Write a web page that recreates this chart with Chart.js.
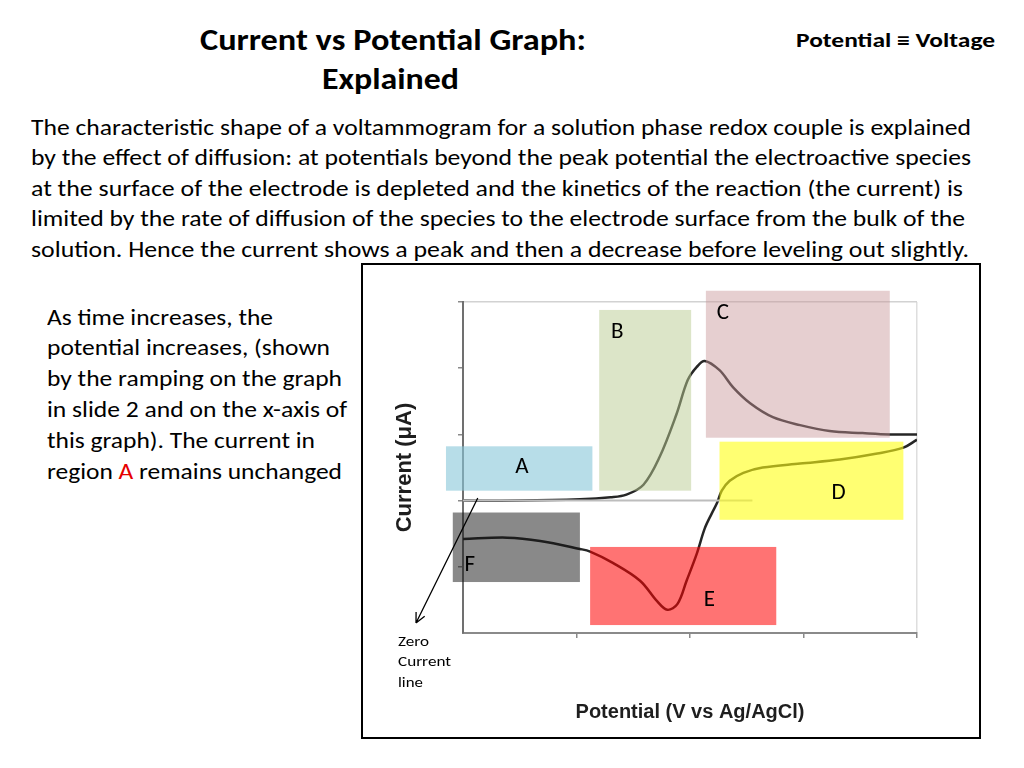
<!DOCTYPE html>
<html>
<head>
<meta charset="utf-8">
<script src="https://cdn.jsdelivr.net/npm/chart.js@4.4.1/dist/chart.umd.min.js"></script>
<style>
  html, body { margin:0; padding:0; background:#fff; }
  body { width:1024px; height:768px; position:relative; overflow:hidden;
         font-family: Carlito, Calibri, Lato, "Open Sans", sans-serif; color:#000; }
  .ln { position:absolute; white-space:nowrap; transform-origin:0 50%; }
  #chartBox { position:absolute; left:361px; top:263px; width:616px; height:472px;
              border:2px solid #000; background:#fff; }
  #chartBox canvas { display:block; }
</style>
</head>
<body>

<div id="chartBox"><canvas id="cv"></canvas></div>

<script>
/* ---------- chart data (arbitrary units) ---------- */
// potential axis: 4 equal divisions, no numbers shown
const potentialTicks = [0, 1, 2, 3, 4];
const currentTicks   = [-2, -1, 0, 1, 2, 3];

// forward (oxidation) sweep, left -> right
const forwardX = [0, 0.50, 1.03, 1.30, 1.44, 1.59, 1.73, 1.88, 1.98, 2.06, 2.13, 2.26, 2.38, 2.53, 2.73, 2.97, 3.23, 3.52, 3.76, 4.00];
const forwardY = [0, 0.00, 0.02, 0.05, 0.09, 0.24, 0.65, 1.30, 1.82, 2.02, 2.11, 1.97, 1.71, 1.47, 1.26, 1.14, 1.05, 1.02, 1.00, 1.00];

// reverse (reduction) sweep, right -> left
const reverseX = [4.00, 3.88, 3.65, 3.32, 2.97, 2.64, 2.47, 2.35, 2.28, 2.24, 2.19, 2.13, 2.06, 1.97, 1.89, 1.80, 1.71, 1.56, 1.32, 1.12, 1.03, 0.68, 0.39, 0];
const reverseY = [0.92, 0.80, 0.71, 0.62, 0.56, 0.50, 0.42, 0.30, 0.15, -0.03, -0.20, -0.42, -0.80, -1.21, -1.56, -1.65, -1.52, -1.21, -0.94, -0.77, -0.73, -0.61, -0.56, -0.58];

// the grey zero current line
const zeroLineX = [0, 2.55];
const zeroLineY = [0, 0];

// highlighted regions of the voltammogram
const regionNames = ["A", "B", "C", "D", "E", "F"];
const regionXFrom = [-0.15, 1.20, 2.14, 2.26, 1.12, -0.09];
const regionXTo   = [ 1.14, 2.01, 3.76, 3.88, 2.76,  1.03];
const regionYFrom = [ 0.15, 0.15, 0.95, -0.29, -1.88, -1.23];
const regionYTo   = [ 0.82, 2.88, 3.17, 0.89, -0.70, -0.18];
const regionLabelX = [0.52, 1.36, 2.29, 3.31, 2.17, 0.06];
const regionLabelY = [0.50, 2.55, 2.83, 0.11, -1.50, -0.97];

/* ---------- slide text ---------- */
// [text, left, centreY, width, size, bold]
const slideLines = [
  ["Current vs Potential Graph:", 200, 40, 386, 30, true],
  ["Explained", 322, 79, 137, 30, true],
  ["Potential \u2261 Voltage", 796, 40, 199, 20, true],
  ["The characteristic shape of a voltammogram for a solution phase redox couple is explained", 31, 127, 940, 23, false],
  ["by the effect of diffusion: at potentials beyond the peak potential the electroactive species", 31, 157, 940, 23, false],
  ["at the surface of the electrode is depleted and the kinetics of the reaction (the current) is", 31, 188, 932, 23, false],
  ["limited by the rate of diffusion of the species to the electrode surface from the bulk of the", 31, 218, 934, 23, false],
  ["solution. Hence the current shows a peak and then a decrease before leveling out slightly.", 31, 249, 938, 23, false],
  ["As time increases, the", 47, 318, 226, 22, false],
  ["potential increases, (shown", 47, 348, 283, 22, false],
  ["by the ramping on the graph", 47, 379, 295, 22, false],
  ["in slide 2 and on the x-axis of", 47, 410, 300, 22, false],
  ["this graph). The current in", 47, 441, 268, 22, false],
  ["region <span style=\"color:#e60000\">A</span> remains unchanged", 47, 472, 295, 22, false],
  ["Zero", 398, 641, 31, 14.5, false],
  ["Current", 398, 661, 53, 14.5, false],
  ["line", 398, 682, 25, 14.5, false]
];

slideLines.forEach(l => {
  const d = document.createElement("div");
  d.className = "ln";
  d.innerHTML = l[0];
  const lh = l[4] * 1.25;
  d.style.left = l[1] + "px";
  d.style.top = (l[2] - lh / 2) + "px";
  d.style.fontSize = l[4] + "px";
  d.style.lineHeight = lh + "px";
  d.style.fontWeight = l[5] ? "bold" : "normal";
  document.body.appendChild(d);
  const w = d.getBoundingClientRect().width;
  d.style.transform = "scaleX(" + (l[3] / w).toFixed(4) + ")";
});

/* ---------- region boxes, labels, arrow ---------- */
// translucent so the curve shows through the way it does on the slide
const regionFill = {
  A: "rgba(135,198,217,0.6)",
  B: "rgba(185,203,145,0.5)",
  C: "rgba(200,149,151,0.45)",
  D: "rgba(255,255,20,0.6)",
  E: "rgba(255,0,0,0.55)",
  F: "rgba(20,20,20,0.5)"
};

const regionPlugin = {
  id: "regions",
  afterDatasetsDraw(chart){
    const {ctx, scales:{x, y}, chartArea} = chart;
    ctx.save();
    regionNames.forEach((n, i) => {
      const x0 = x.getPixelForValue(regionXFrom[i]), x1 = x.getPixelForValue(regionXTo[i]);
      const y0 = y.getPixelForValue(regionYTo[i]),   y1 = y.getPixelForValue(regionYFrom[i]);
      ctx.fillStyle = regionFill[n];
      ctx.fillRect(x0, y0, x1 - x0, y1 - y0);
    });
    ctx.fillStyle = "#000";
    ctx.font = "23px Carlito, Calibri, Lato, sans-serif";
    ctx.textAlign = "center";
    ctx.textBaseline = "middle";
    regionNames.forEach((n, i) => {
      ctx.fillText(n, x.getPixelForValue(regionLabelX[i]), y.getPixelForValue(regionLabelY[i]));
    });

    // arrow pointing from the zero current line to its caption
    const sx = x.getPixelForValue(0.13), sy = y.getPixelForValue(0.04);
    const ex = chartArea.left - 47, ey = chartArea.bottom - 10;
    ctx.strokeStyle = "#000";
    ctx.lineWidth = 1.3;
    ctx.beginPath();
    ctx.moveTo(sx, sy); ctx.lineTo(ex, ey);
    const ang = Math.atan2(ey - sy, ex - sx);
    [0.45, -0.45].forEach(a => {
      ctx.moveTo(ex, ey);
      ctx.lineTo(ex - 11 * Math.cos(ang + a), ey - 11 * Math.sin(ang + a));
    });
    ctx.stroke();
    ctx.restore();
  }
};

/* ---------- chart ---------- */
const pts = (xs, ys) => xs.map((v, i) => ({x: v, y: ys[i]}));

new Chart(document.getElementById("cv"), {
  type: "scatter",
  data: {
    datasets: [
      { label: "zero", data: pts(zeroLineX, zeroLineY), showLine: true, pointRadius: 0,
        borderColor: "#bdbdbd", borderWidth: 2 },
      { label: "forward", data: pts(forwardX, forwardY), showLine: true, pointRadius: 0,
        borderColor: "#262626", borderWidth: 2.5, tension: 0.35 },
      { label: "reverse", data: pts(reverseX, reverseY), showLine: true, pointRadius: 0,
        borderColor: "#262626", borderWidth: 2.5, tension: 0.35 }
    ]
  },
  options: {
    responsive: true,
    maintainAspectRatio: false,
    animation: false,
    layout: { padding: { left: 0, right: 62, top: 37, bottom: 0 } },
    plugins: { legend: { display: false }, tooltip: { enabled: false } },
    scales: {
      x: {
        type: "linear",
        min: potentialTicks[0], max: potentialTicks[potentialTicks.length - 1],
        afterBuildTicks: s => { s.ticks = potentialTicks.map(v => ({value: v})); },
        ticks: { display: false },
        grid: {
          drawOnChartArea: true, drawTicks: true, tickLength: 5,
          color: c => (c.tick && c.tick.value === 4) ? "#dedede" : "rgba(0,0,0,0)",
          tickColor: c => (c.tick && c.tick.value === 0) ? "rgba(0,0,0,0)" : "#8a8a8a",
          lineWidth: 1.5
        },
        border: { color: "#8a8a8a", width: 2 },
        title: {
          display: true, text: "Potential (V vs Ag/AgCl)", color: "#1e1e1e",
          font: { family: "'Liberation Sans', Arial, sans-serif", weight: "bold", size: 20, lineHeight: 1.2 },
          padding: { top: 62, bottom: 13 }
        }
      },
      y: {
        min: currentTicks[0], max: currentTicks[currentTicks.length - 1],
        afterBuildTicks: s => { s.ticks = currentTicks.map(v => ({value: v})); },
        ticks: { display: false },
        grid: {
          drawOnChartArea: true, drawTicks: true, tickLength: 5,
          color: c => (c.tick && c.tick.value === 3) ? "#d2d2d2" : "rgba(0,0,0,0)",
          tickColor: c => (c.tick && c.tick.value === -2) ? "rgba(0,0,0,0)" : "#8a8a8a",
          lineWidth: 1.5
        },
        border: { color: "#707070", width: 2 },
        title: {
          display: true, text: "Current (\u03bcA)", color: "#1e1e1e",
          font: { family: "'Liberation Sans', Arial, sans-serif", weight: "bold", size: 22, lineHeight: 1.2 },
          padding: { top: 28.8, bottom: 39.8 }
        }
      }
    }
  },
  plugins: [regionPlugin]
});
</script>
</body>
</html>
